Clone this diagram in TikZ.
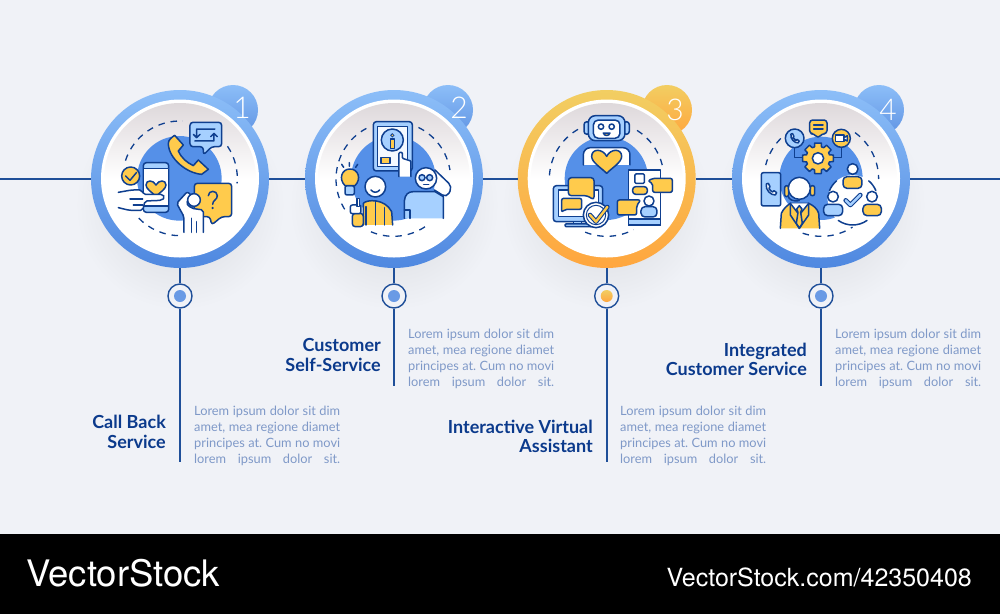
\documentclass[tikz,border=0pt]{standalone}
\usepackage{fontspec}
\setmainfont{Lato}
\newfontfamily\digitfont{Lato Light}
\newfontfamily\stockfont{TeX Gyre Heros}
\usepackage{tikz}
\definecolor{bgc}{HTML}{F0F2F7}
\definecolor{navy}{HTML}{0F3F8F}
\definecolor{linec}{HTML}{1F4F99}
\definecolor{titlec}{HTML}{0B3A8C}
\definecolor{bodyc}{HTML}{7F99C8}
\definecolor{discc}{HTML}{5590E8}
\definecolor{skyc}{HTML}{A6D0FF}
\definecolor{yelc}{HTML}{FFCB4C}
\definecolor{ringtop}{HTML}{8CBEF8}
\definecolor{ringbot}{HTML}{4F88E0}
\definecolor{orgtop}{HTML}{F2CE62}
\definecolor{orgbot}{HTML}{FFA63E}
\definecolor{greytop}{HTML}{DED8DB}
\tikzstyle{ring}=[circle,minimum size=178pt,inner sep=0pt]
\tikzstyle{blring}=[ring,top color=ringtop,bottom color=ringbot]
\tikzstyle{orring}=[ring,top color=orgtop,bottom color=orgbot]
\tikzstyle{rim}=[circle,minimum size=158pt,inner sep=0pt,fill=white]
\tikzstyle{face}=[circle,minimum size=152pt,inner sep=0pt,top color=greytop,bottom color=white,middle color=white]
\tikzstyle{badge}=[circle,minimum size=50pt,inner sep=0pt]
\tikzstyle{blbadge}=[badge,top color=ringtop,bottom color=ringbot!90]
\tikzstyle{orbadge}=[badge,top color=orgtop,bottom color=orgbot]
\tikzstyle{digit}=[text=white,inner sep=0pt,font=\digitfont\fontsize{30}{30}\selectfont]
\tikzstyle{dotout}=[circle,draw=linec,line width=1.4pt,fill=bgc,minimum size=24pt,inner sep=0pt]
\tikzstyle{bldot}=[circle,fill=ringbot!85!white,minimum size=12pt,inner sep=0pt]
\tikzstyle{ordot}=[circle,top color=orgtop,bottom color=orgbot,minimum size=12pt,inner sep=0pt]
\tikzstyle{conn}=[draw=linec,line width=1.7pt]
\tikzstyle{title}=[anchor=east,align=right,inner sep=0pt,text=titlec,font=\bfseries\fontsize{18}{19.5}\selectfont]
\tikzstyle{body}=[anchor=west,inner sep=0pt,text width=146pt,text=bodyc,font=\frenchspacing\fontsize{12.8}{16}\selectfont]
\tikzstyle{stock}=[inner sep=0pt,text=white,font=\stockfont]
\tikzstyle{ic}=[draw=navy,line width=1.5pt,line join=round,line cap=round]
\tikzstyle{yel}=[ic,fill=yelc]
\tikzstyle{sky}=[ic,fill=skyc]
\tikzstyle{wht}=[ic,fill=white]
\tikzstyle{dring}=[draw=navy,line width=1.3pt,dash pattern=on 6.5pt off 6pt]
\tikzset{
  heart/.pic={\draw[yel] (0,22) .. controls (-12,10) and (-30,0) .. (-30,-12) .. controls (-30,-28) and (-8,-28) .. (0,-12) .. controls (8,-28) and (30,-28) .. (30,-12) .. controls (30,0) and (12,10) .. (0,22) -- cycle;},
  handset/.pic={\draw[wht] (-14,-16) -- (-8,-18) -- (-3,-8) -- (-6,-3) .. controls (-4,2) and (0,6) .. (5,8) -- (9,4) -- (17,10) -- (13,17) .. controls (0,18) and (-18,2) .. (-14,-16) -- cycle;}
}
\newcommand{\fline}[1]{\hbox to 146pt{\spaceskip=.2em plus 1fil minus .1em #1}\par}
\newcommand{\loremlines}{\fline{Lorem ipsum dolor sit dim}\fline{amet, mea regione diamet}\fline{principes at. Cum no movi}\fline{lorem ipsum dolor sit.}}
\begin{document}
\begin{tikzpicture}[x=1pt,y=-1pt]
        \useasboundingbox (0,0) rectangle (1000,614);
        \fill[bgc] (0,0) rectangle (1000,534);
        \fill[black] (0,534) rectangle (1000,614);

        \foreach \c in {180,394,606.7,821}
            \shade[inner color=black!11!bgc,outer color=bgc] (\c,205) circle (105);

        \coordinate (Lh) at (0,179);
        \coordinate (Rh) at (1000,179);
        \coordinate (Ea) at (180,462);
        \coordinate (Eb) at (394,386);
        \coordinate (Ec) at (606.7,462);
        \coordinate (Ed) at (821,386);

        \node[blbadge] (Ba) at (233,110) {};
        \node[blbadge] (Bb) at (448,110) {};
        \node[orbadge] (Bc) at (667,110) {};
        \node[blbadge] (Bd) at (879,110) {};

        \node[blring] (Ra) at (180,179) {}
            edge[conn] (Lh)
        ;
        \node[blring] (Rb) at (394,179) {}
            edge[conn] (Ra)
        ;
        \node[orring] (Rc) at (606.7,179) {}
            edge[conn] (Rb)
        ;
        \node[blring] (Rd) at (821,179) {}
            edge[conn] (Rc)
            edge[conn] (Rh)
        ;

        \node[dotout] (Da) at (180,296) {}
            edge[conn] (Ra)
            edge[conn] (Ea)
        ;
        \node[dotout] (Db) at (394,296) {}
            edge[conn] (Rb)
            edge[conn] (Eb)
        ;
        \node[dotout] (Dc) at (606.7,296) {}
            edge[conn] (Rc)
            edge[conn] (Ec)
        ;
        \node[dotout] (Dd) at (821,296) {}
            edge[conn] (Rd)
            edge[conn] (Ed)
        ;
        \node[bldot] (Ia) at (Da) {};
        \node[bldot] (Ib) at (Db) {};
        \node[ordot] (Ic) at (Dc) {};
        \node[bldot] (Id) at (Dd) {};

        \node[rim] (Wa) at (180,178.5) {};
        \node[rim] (Wb) at (394,178.5) {};
        \node[rim] (Wc) at (606.7,178.5) {};
        \node[rim] (Wd) at (821,178.5) {};
        \node[face] (Fa) at (180,179) {};
        \node[face] (Fb) at (394,179) {};
        \node[face] (Fc) at (606.7,179) {};
        \node[face] (Fd) at (821,179) {};

        \node[digit] (Na) at (242,108) {1};
        \node[digit] (Nb) at (459,108) {2};
        \node[digit] (Nc) at (675,110) {3};
        \node[digit] (Nd) at (888,110) {4};

        \node[title] (Ta) at (166,432) {Call Back\\Service};
        \node[title] (Tb) at (381,355) {Customer\\Self-Service};
        \node[title] (Tc) at (593,436.5) {Interactive Virtual\\Assistant};
        \node[title] (Td) at (807,359.5) {Integrated\\Customer Service};

        \node[body] (Xa) at (194,435.5) {\loremlines};
        \node[body] (Xb) at (408,358.5) {\loremlines};
        \node[body] (Xc) at (620,435.5) {\loremlines};
        \node[body] (Xd) at (835,358.5) {\loremlines};

        \node[stock,anchor=west,font=\stockfont\fontsize{36.5}{36.5}\selectfont] (Sa) at (26,573) {VectorStock};
        \node[stock,anchor=east,font=\stockfont\fontsize{25}{25}\selectfont] (Sb) at (972,577) {VectorStock.com/42350408};

        % first icon
        \begin{scope}[shift={(80,75)},x=.3333pt,y=-.3333pt]
            \fill[discc] (298,310) circle (127);
            \foreach \a/\b in {162/87,34/-5,224/270}
                \draw[dring] (300,310) ++(-\a:172) arc (-\a:-\b:172);
            \draw[yel] (284,181) -- (310,210) -- (295,228) .. controls (305,250) and (320,262) .. (340,272) -- (355,255) -- (385,283) -- (365,298) .. controls (320,295) and (265,250) .. (265,205) .. controls (265,195) and (275,187) .. (284,181) -- cycle;
            \draw[sky,rounded corners=3pt] (330,142) -- (425,142) -- (425,215) -- (395,215) -- (370,240) -- (370,215) -- (330,215) -- cycle;
            \draw[ic] (405,162) -- (350,162) -- (350,188) (340,178) -- (350,188) -- (360,178);
            \draw[ic] (345,198) -- (402,198) -- (402,175) (392,185) -- (402,175) -- (412,185);
            \draw[sky,rounded corners=3pt] (190,263) rectangle (266,412);
            \draw[wht] (190,280) rectangle (266,393);
            \pic at (228,342) {heart};
            \draw[yel] (152,303) circle (27);
            \draw[ic] (137,303) -- (150,316) -- (170,292);
            \draw[wht,rounded corners=2pt] (115,352) -- (155,345) -- (185,345) -- (190,358) -- (248,358) -- (255,367) -- (245,376) -- (195,378) -- (188,406) -- (148,406) -- (115,398);
            \draw[ic] (150,372) -- (188,372) (160,390) -- (188,390);
            \draw[yel,rounded corners=3pt] (343,325) -- (455,325) -- (455,425) -- (425,425) -- (395,450) -- (390,425) -- (343,425) -- cycle;
            \draw[ic] (385,362) .. controls (385,345) and (412,345) .. (412,362) .. controls (412,375) and (398,375) .. (398,388);
            \fill[navy] (398,399) circle (4);
            \draw[wht,rounded corners=2pt] (312,472) -- (312,425) -- (290,385) -- (322,350) -- (335,362) -- (318,385) -- (335,400) -- (370,405) -- (370,472);
            \draw[ic] (335,430) -- (335,472) (350,440) -- (350,472);
            \draw[wht] (342,375) circle (19);
        \end{scope}

        % second icon
        \begin{scope}[shift={(295,75)},x=.3333pt,y=-.3333pt]
            \fill[discc] (295,310) circle (127);
            \foreach \a/\b in {118/215,64/9,247/308}
                \draw[dring] (295,312) ++(-\a:172) arc (-\a:-\b:172);
            \draw[sky,rounded corners=3pt] (235,140) rectangle (352,288);
            \draw[wht,fill=white!88!skyc] (248,155) rectangle (338,275);
            \draw[sky] (292,195) circle (33);
            \fill[yelc,draw=navy,line width=.8pt] (292,181) circle (5);
            \draw[yel] (287,192) rectangle (298,221);
            \draw[yel] (258,248) rectangle (285,265);
            \draw[wht,rounded corners=1pt] (312,305) -- (312,232) -- (322,232) -- (322,250) -- (348,258) -- (348,305);
            \draw[sky,rounded corners=2pt] (150,332) rectangle (178,360);
            \draw[yel] (150,332) .. controls (130,312) and (140,282) .. (165,282) .. controls (190,282) and (200,312) .. (180,332) -- cycle;
            \draw[ic] (140,268) -- (146,277) (163,263) -- (163,274) (188,268) -- (182,277);
            \draw[yel] (205,450) -- (205,385) .. controls (215,373) and (270,370) .. (290,410) -- (293,450);
            \draw[ic] (242,378) -- (242,450) (268,398) -- (268,450) (213,395) -- (213,450);
            \draw[yel,rounded corners=3pt] (172,415) rectangle (205,455);
            \draw[wht,rounded corners=2pt] (166,390) rectangle (198,416);
            \draw[wht] (186,370) rectangle (194,395);
            \draw[wht] (241,335) circle (31);
            \draw[ic] (228,345) .. controls (235,354) and (247,354) .. (254,345);
            \draw[sky] (328,430) -- (328,378) .. controls (330,358) and (340,350) .. (355,350) -- (420,350) -- (445,365) -- (445,430);
            \draw[ic] (328,405) -- (345,405) -- (345,430);
            \draw[wht,rounded corners=5pt] (420,285) -- (472,335) -- (455,368) -- (418,345);
            \draw[wht] (393,310) circle (32);
            \draw[sky] (381,308) circle (9) (404,308) circle (9);
            \draw[ic] (386,329) -- (401,329);
        \end{scope}

        % third icon
        \begin{scope}[shift={(510,75)},x=.3333pt,y=-.3333pt]
            \fill[discc] (289,310) circle (125);
            \foreach \a/\b in {120/177,58/14,248/298}
                \draw[dring] (290,312) ++(-\a:172) arc (-\a:-\b:172);
            \draw[sky,rounded corners=3pt] (222,140) rectangle (240,178);
            \draw[sky,rounded corners=3pt] (340,140) rectangle (358,178);
            \draw[sky,rounded corners=7pt] (235,122) rectangle (345,197);
            \draw[wht,rounded corners=5pt] (250,135) rectangle (330,190);
            \draw[wht] (273,155) circle (8) (305,155) circle (8);
            \draw[yel] (280,174) -- (300,174) .. controls (298,184) and (282,184) .. (280,174) -- cycle;
            \draw[wht,rounded corners=7pt] (220,270) -- (220,218) -- (360,218) -- (360,270);
            \pic[scale=1.5] at (290,262) {heart};
            \draw[sky,rounded corners=3pt] (130,332) rectangle (278,440);
            \draw[wht] (145,345) rectangle (265,425);
            \draw[sky] (190,440) rectangle (215,447);
            \draw[sky,rounded corners=1pt] (165,447) rectangle (245,455);
            \draw[yel,rounded corners=3pt] (175,308) -- (252,308) -- (252,375) -- (232,362) -- (175,362) -- cycle;
            \draw[yel,rounded corners=2pt] (155,370) -- (215,370) -- (215,403) -- (165,403) -- (155,412) -- cycle;
            \draw[wht] (258,420) circle (38);
            \draw[ic,line width=1pt] (258,420) circle (29);
            \draw[navy,line width=4.6pt,line cap=round,line join=round] (240,420) -- (258,440) -- (292,396);
            \draw[yelc,line width=2.4pt,line cap=round,line join=round] (240,420) -- (258,440) -- (292,396);
            \draw[wht] (356,285) rectangle (452,450);
            \draw[sky] (356,432) rectangle (452,450);
            \draw[yel,rounded corners=3pt] (368,358) -- (368,335) -- (412,335) -- (412,358) -- cycle;
            \draw[wht,rounded corners=1pt] (375,297) rectangle (403,325);
            \draw[sky,rounded corners=4pt] (393,426) -- (393,395) -- (441,395) -- (441,426) -- cycle;
            \draw[wht] (417,378) circle (15);
            \draw[yel,rounded corners=2pt] (428,310) -- (487,310) -- (487,352) -- (428,352) -- (428,325) -- (414,318) -- cycle;
            \draw[yel,rounded corners=2pt] (322,375) -- (392,375) -- (380,392) -- (380,420) -- (322,420) -- cycle;
        \end{scope}

        % fourth icon
        \begin{scope}[shift={(722,75)},x=.3333pt,y=-.3333pt]
            \fill[discc] (297,310) circle (125);
            \foreach \a/\b in {135/166,54/0,251/303}
                \draw[dring] (298,312) ++(-\a:172) arc (-\a:-\b:172);
            \draw[ic] (218,218) -- (218,248) -- (245,248) (358,217) -- (358,248) -- (332,248);
            \draw[yel,shift={(288,250)}] (-12:47) \foreach \a in {0,45,...,315}{ -- (\a-12:47) -- (\a+12:47) -- (\a+17:36) -- (\a+28:36) } -- cycle;
            \draw[wht] (288,250) circle (17);
            \draw[yel,rounded corners=3pt] (263,135) -- (315,135) -- (315,176) -- (300,176) -- (288,190) -- (276,176) -- (263,176) -- cycle;
            \draw[ic] (275,150) -- (303,150) (275,162) -- (303,162);
            \draw[sky] (218,190) circle (28);
            \pic[scale=.8] at (218,190) {handset};
            \draw[yel] (358,190) circle (27);
            \draw[wht] (340,180) rectangle (366,200);
            \draw[wht] (366,188) -- (376,182) -- (376,198) -- (366,193);
            \draw[sky,rounded corners=2pt] (118,293) rectangle (176,393);
            \pic at (147,343) {handset};
            \draw[yel] (175,460) -- (178,415) .. controls (185,400) and (195,392) .. (205,385) -- (260,385) .. controls (275,392) and (285,400) .. (290,415) -- (293,460);
            \draw[wht] (205,385) -- (232,420) -- (260,385);
            \draw[yel] (232,392) -- (240,402) -- (236,412) -- (241,445) -- (232,460) -- (223,445) -- (228,412) -- (224,402) -- cycle;
            \draw[ic] (205,385) -- (205,420) -- (232,460) -- (260,420) -- (260,385);
            \draw[yel,rounded corners=2pt] (188,332) rectangle (200,365);
            \draw[yel,rounded corners=2pt] (265,332) rectangle (278,362);
            \draw[wht] (232,340) circle (33);
            \draw[ic] (198,362) .. controls (200,375) and (215,380) .. (232,377);
            \fill[white] (392,375) circle (75);
            \foreach \a/\b in {130/158,22/50,235/305}
                \draw[ic] (392,375) ++(-\a:75) arc (-\a:-\b:75);
            \draw[yel,rounded corners=4pt] (363,340) -- (363,305) -- (420,305) -- (420,340) -- cycle;
            \draw[wht] (392,282) circle (16);
            \draw[sky,rounded corners=4pt] (305,422) -- (305,388) -- (362,388) -- (362,422) -- cycle;
            \draw[wht] (333,365) circle (16);
            \draw[yel,rounded corners=4pt] (423,422) -- (423,388) -- (478,388) -- (478,422) -- cycle;
            \draw[wht] (450,365) circle (16);
            \draw[navy,line width=4.6pt,line cap=round,line join=round] (371,376) -- (385,390) -- (415,360);
            \draw[skyc,line width=2.4pt,line cap=round,line join=round] (371,376) -- (385,390) -- (415,360);
        \end{scope}
    \end{tikzpicture}
\end{document}
